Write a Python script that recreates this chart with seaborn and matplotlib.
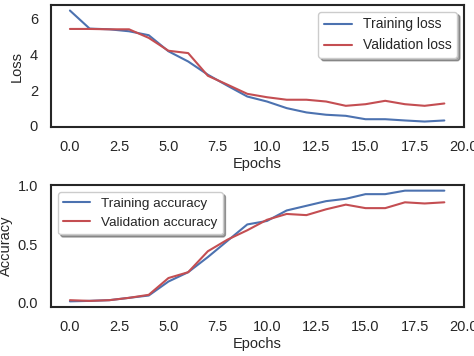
import numpy as np
import pandas as pd
import seaborn as sns
import matplotlib.pyplot as plt

epochs = list(range(20))
train_loss = [6.45, 5.44, 5.40, 5.29, 5.07, 4.17, 3.60, 2.86, 2.24, 1.64,
              1.36, 0.99, 0.75, 0.62, 0.56, 0.37, 0.37, 0.30, 0.24, 0.30]
val_loss = [5.42, 5.42, 5.40, 5.40, 4.92, 4.20, 4.07, 2.80, 2.30, 1.79,
            1.60, 1.46, 1.46, 1.36, 1.12, 1.21, 1.40, 1.21, 1.12, 1.25]
train_acc = [0.01, 0.014, 0.02, 0.04, 0.06, 0.18, 0.26, 0.39, 0.53, 0.67,
             0.70, 0.79, 0.83, 0.87, 0.89, 0.93, 0.93, 0.96, 0.96, 0.96]
val_acc = [0.02, 0.014, 0.02, 0.04, 0.066, 0.21, 0.26, 0.44, 0.54, 0.62,
           0.71, 0.76, 0.75, 0.80, 0.84, 0.81, 0.81, 0.86, 0.85, 0.86]

sns.set(style="white", color_codes=True)
plt.rcParams['font.family'] = ['Liberation Sans', 'DejaVu Sans']

fig = plt.figure(figsize=(4.74, 3.56), dpi=100)
ax1 = fig.add_axes([0.108, 0.643, 0.871, 0.343])
ax2 = fig.add_axes([0.108, 0.138, 0.871, 0.342])

sns.lineplot(x=epochs, y=train_loss, color="b", label="Training loss", ax=ax1)
sns.lineplot(x=epochs, y=val_loss, color="r", label="Validation loss", ax=ax1)
ax1.legend(loc="upper right", shadow=True, frameon=True, fontsize=10,
           handlelength=2.0)
ax1.set_xlabel("Epochs", fontsize=10.5, labelpad=2)
ax1.set_ylabel("Loss", fontsize=10.5, labelpad=4)
ax1.set_yticks([0, 2, 4, 6])

sns.lineplot(x=epochs, y=train_acc, color="b", label="Training accuracy", ax=ax2)
sns.lineplot(x=epochs, y=val_acc, color="r", label="Validation accuracy", ax=ax2)
ax2.legend(loc="upper left", shadow=True, frameon=True, fontsize=9.7,
           handlelength=2.0)
ax2.set_xlabel("Epochs", fontsize=10.5, labelpad=2)
ax2.set_ylabel("Accuracy", fontsize=10.5, labelpad=3)
ax2.set_yticks([0.0, 0.5, 1.0])

for ax in (ax1, ax2):
    ax.set_xlim(-0.95, 20.0)
    ax.set_xticks(np.arange(0, 20.1, 2.5))
    ax.tick_params(labelsize=10.5)
    for s in ax.spines.values():
        s.set_color(".15")
        s.set_linewidth(1.5)

fig.savefig("out.png", dpi=100)
